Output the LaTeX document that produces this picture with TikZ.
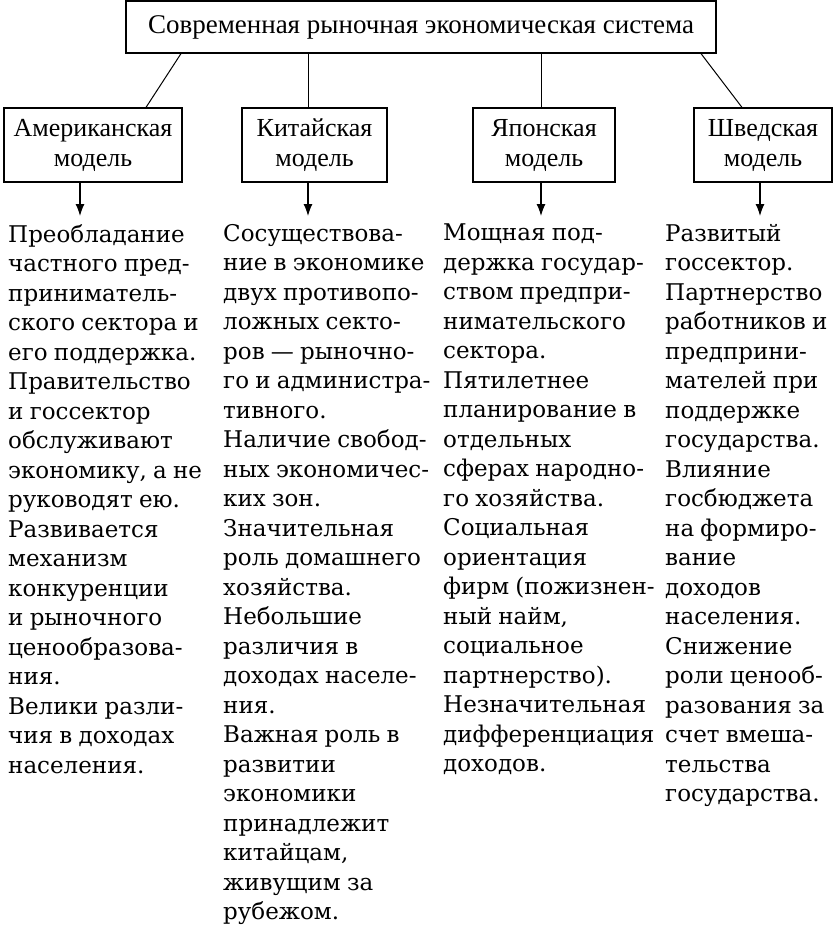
\documentclass[tikz,border=0pt]{standalone}
\usepackage{fontspec}
\setmainfont{Liberation Serif}
\newfontfamily\bodyfont[WordSpace={0.85,0.5,0.5}]{DejaVu Serif}
\usetikzlibrary{arrows.meta}

\begin{document}
\begin{tikzpicture}[x=1pt,y=-1pt,
  box/.style={draw,line width=1.2pt,inner sep=0,align=center},
  model/.style={box,minimum height=74pt,font=\fontsize{26}{30}\selectfont},
  body/.style={anchor=north west,inner sep=0,align=left,font=\bodyfont\fontsize{23}{29.5}\selectfont},
  arr/.style={line width=1.2pt,-{Latex[length=12pt,width=9pt]},shorten >=8pt}]
\useasboundingbox (0,0) rectangle (836,934);
% top box
\node[box,minimum width=590pt,minimum height=52pt,font=\fontsize{27}{30}\selectfont] (sys) at (421,27) {Современная рыночная экономическая система};
% models
\node[model,minimum width=178pt] (am) at (93,145) {Американская\\модель};
\node[model,minimum width=145pt] (ch) at (314.5,145) {Китайская\\модель};
\node[model,minimum width=142pt] (jp) at (544,145) {Японская\\модель};
\node[model,minimum width=138pt] (sw) at (763,145) {Шведская\\модель};
\draw[line width=1pt] ([xshift=-240pt]sys.south) -- ([xshift=53pt]am.north);
\draw[line width=1pt] ([xshift=-6.5pt]ch.north) -- ([xshift=-6.5pt]ch.north |- sys.south);
\draw[line width=1pt] ([xshift=-3pt]jp.north) -- ([xshift=-3pt]jp.north |- sys.south);
\draw[line width=1pt] ([xshift=280pt]sys.south) -- ([xshift=-21pt]sw.north);
% texts
\node[body] (amtext) at (8,224) {Преобладание\\частного пред-\\приниматель-\\ского сектора и\\его поддержка.\\Правительство\\и госсектор\\обслуживают\\экономику, а не\\руководят ею.\\Развивается\\механизм\\конкуренции\\и рыночного\\ценообразова-\\ния.\\Велики разли-\\чия в доходах\\населения.};
\node[body] (chtext) at (223,224) {Сосуществова-\\ние в экономике\\двух противопо-\\ложных секто-\\ров — рыночно-\\го и администра-\\тивного.\\Наличие свобод-\\ных экономичес-\\ких зон.\\Значительная\\роль домашнего\\хозяйства.\\Небольшие\\различия в\\доходах населе-\\ния.\\Важная роль в\\развитии\\экономики\\принадлежит\\китайцам,\\живущим за\\рубежом.};
\node[body] (jptext) at (443,224) {Мощная под-\\держка государ-\\ством предпри-\\нимательского\\сектора.\\Пятилетнее\\планирование в\\отдельных\\сферах народно-\\го хозяйства.\\Социальная\\ориентация\\фирм (пожизнен-\\ный найм,\\социальное\\партнерство).\\Незначительная\\дифференциация\\доходов.};
\node[body] (swtext) at (665,224) {Развитый\\госсектор.\\Партнерство\\работников и\\предприни-\\мателей при\\поддержке\\государства.\\Влияние\\госбюджета\\на формиро-\\вание\\доходов\\населения.\\Снижение\\роли ценооб-\\разования за\\счет вмеша-\\тельства\\государства.};
% arrows
\draw[arr] ([xshift=-13pt]am.south) -- ([xshift=-13pt]am.south |- amtext.north);
\draw[arr] ([xshift=-6.5pt]ch.south) -- ([xshift=-6.5pt]ch.south |- chtext.north);
\draw[arr] ([xshift=-3pt]jp.south) -- ([xshift=-3pt]jp.south |- jptext.north);
\draw[arr] ([xshift=-3pt]sw.south) -- ([xshift=-3pt]sw.south |- swtext.north);
\end{tikzpicture}
\end{document}
